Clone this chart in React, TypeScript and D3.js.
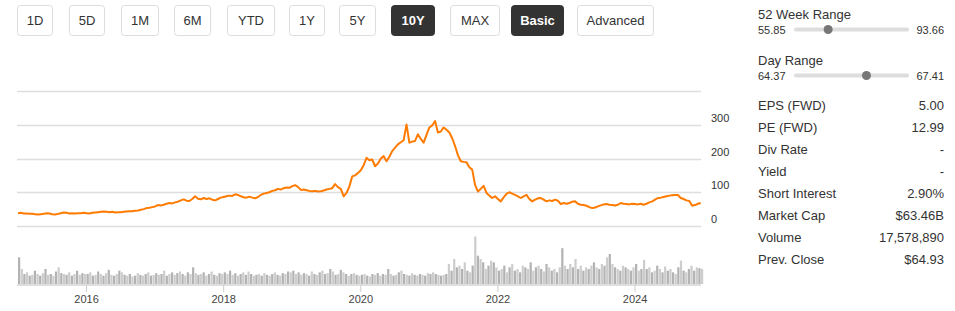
import React from "react";
import * as d3 from "d3";

// ---- data ----
const priceYears = [2015, 2016, 2017, 2018, 2019, 2020, 2021, 2022, 2023, 2024];
// semi-monthly closes per year (24 each)
const price2015 = [38, 39, 37, 37, 36, 36, 35, 34, 35, 36, 38, 37, 35, 34, 36, 38, 40, 39, 37, 38, 37, 38, 38, 39];
const price2016 = [38, 37, 39, 40, 41, 42, 43, 42, 41, 42, 40, 41, 41, 42, 43, 44, 44, 45, 46, 48, 50, 53, 54, 56];
const price2017 = [58, 62, 61, 63, 66, 68, 67, 70, 72, 76, 79, 75, 74, 80, 88, 81, 79, 83, 80, 82, 78, 76, 80, 84];
const price2018 = [86, 88, 90, 89, 94, 92, 88, 85, 84, 87, 84, 82, 86, 92, 96, 98, 100, 104, 106, 110, 108, 112, 114, 113];
const price2019 = [118, 121, 116, 107, 108, 106, 104, 103, 104, 102, 103, 105, 108, 110, 112, 124, 115, 110, 88, 98, 117, 147, 150, 157];
const price2020 = [165, 180, 202, 195, 197, 177, 185, 200, 207, 192, 205, 222, 232, 242, 248, 254, 301, 247, 250, 252, 272, 258, 247, 270];
const price2021 = [292, 298, 311, 277, 280, 292, 285, 277, 260, 237, 210, 192, 190, 189, 174, 167, 122, 102, 110, 119, 98, 90, 83, 88];
const price2022 = [80, 73, 85, 95, 100, 96, 92, 88, 83, 88, 92, 80, 73, 78, 82, 83, 78, 73, 76, 74, 78, 75, 65, 68];
const price2023 = [66, 68, 72, 73, 66, 63, 62, 60, 56, 53, 55, 58, 61, 64, 65, 63, 62, 61, 63, 68, 66, 65, 64, 66];
const price2024 = [65, 64, 66, 63, 66, 70, 73, 78, 83, 84, 86, 88, 90, 91, 92, 92, 83, 80, 76, 74, 60, 62, 66, 68];
const priceRows = [price2015, price2016, price2017, price2018, price2019, price2020, price2021, price2022, price2023, price2024];

// bi-weekly volume (millions), 26 per year
const vol2015 = [32, 18, 12, 14, 10, 11, 16, 12, 10, 13, 18, 11, 12, 10, 15, 20, 13, 12, 11, 14, 10, 12, 16, 11, 13, 12];
const vol2016 = [12, 14, 10, 11, 15, 12, 10, 13, 17, 11, 10, 12, 16, 14, 11, 10, 12, 9, 10, 13, 11, 10, 12, 14, 10, 11];
const vol2017 = [13, 11, 12, 16, 10, 12, 14, 11, 13, 15, 12, 10, 14, 12, 20, 13, 11, 12, 14, 10, 12, 15, 11, 10, 13, 12];
const vol2018 = [14, 12, 16, 11, 13, 10, 12, 14, 11, 15, 12, 10, 11, 12, 10, 13, 11, 10, 12, 14, 11, 10, 13, 12, 15, 14];
const vol2019 = [16, 12, 14, 11, 13, 12, 10, 15, 12, 11, 14, 16, 12, 13, 18, 15, 11, 12, 17, 14, 12, 10, 12, 13, 11, 10];
const vol2020 = [11, 12, 10, 9, 12, 11, 13, 10, 12, 11, 18, 12, 10, 11, 14, 16, 12, 11, 10, 13, 11, 10, 12, 11, 10, 13];
const vol2021 = [12, 14, 12, 11, 10, 11, 12, 24, 16, 30, 20, 22, 18, 26, 16, 14, 22, 57, 34, 30, 26, 18, 22, 28, 26, 20];
const vol2022 = [16, 18, 22, 14, 20, 24, 16, 18, 14, 22, 20, 18, 26, 16, 20, 22, 18, 15, 24, 20, 16, 18, 14, 20, 43, 22];
const vol2023 = [18, 24, 20, 30, 18, 22, 16, 20, 18, 22, 26, 20, 18, 24, 22, 32, 36, 24, 20, 18, 16, 22, 20, 18, 16, 20];
const vol2024 = [24, 16, 18, 29, 18, 20, 14, 16, 22, 18, 14, 21, 16, 18, 14, 12, 20, 28, 16, 14, 18, 22, 16, 20, 19, 18];
const volRows = [vol2015, vol2016, vol2017, vol2018, vol2019, vol2020, vol2021, vol2022, vol2023, vol2024];

const yTicks = [0, 100, 200, 300, 400];
const yLabels = [0, 100, 200, 300];
const xTicks = [2016, 2018, 2020, 2022, 2024];

const buttons = ["1D", "5D", "1M", "6M", "YTD", "1Y", "5Y", "10Y", "MAX", "Basic", "Advanced"];
const activeButtons = ["10Y", "Basic"];
const buttonX = [17, 69, 121, 174, 227, 289, 339, 391, 450, 511, 577];
const buttonW = [35, 35, 37, 36, 47, 35, 36, 43, 49, 52, 76];

const ranges = [
  { label: "52 Week Range", low: 55.85, high: 93.66, current: 66.8 },
  { label: "Day Range", low: 64.37, high: 67.41, current: 66.3 },
];
const statLabels = ["EPS (FWD)", "PE (FWD)", "Div Rate", "Yield", "Short Interest", "Market Cap", "Volume", "Prev. Close"];
const statValues = ["5.00", "12.99", "-", "-", "2.90%", "$63.46B", "17,578,890", "$64.93"];

const FONT = "'Liberation Sans', Arial, sans-serif";

export default function App() {
  const x = d3.scaleLinear().domain([2015, 2025]).range([18, 703.6]);
  const y = d3.scaleLinear().domain([0, 400]).range([226, 91]);
  const yv = d3.scaleLinear().domain([0, 60]).range([284, 234]);

  const prices: { t: number; v: number }[] = [];
  priceRows.forEach((row, yi) => row.forEach((v, i) => prices.push({ t: priceYears[yi] + i / 24, v })));
  const vols: { t: number; v: number }[] = [];
  volRows.forEach((row, yi) => row.forEach((v, i) => vols.push({ t: priceYears[yi] + i / 26, v })));

  const line = d3
    .line<{ t: number; v: number }>()
    .x((d) => x(d.t))
    .y((d) => y(d.v));

  const barW = x(2015 + 1 / 26) - x(2015);

  return (
    <svg
      width={955}
      height={311}
      style={{ position: "absolute", left: 0, top: 0, background: "#fff" }}
      fontFamily={FONT}
    >
      {/* buttons */}
      {buttons.map((b, i) => {
        const active = activeButtons.includes(b);
        return (
          <g key={b}>
            <rect
              x={buttonX[i] + 0.5}
              y={5.5}
              width={buttonW[i]}
              height={30}
              rx={3}
              fill={active ? "#333" : "#fff"}
              stroke={active ? "#333" : "#ddd"}
            />
            <text
              x={buttonX[i] + 0.5 + buttonW[i] / 2}
              y={25}
              textAnchor="middle"
              fontSize={13}
              fontWeight={active ? "bold" : "normal"}
              fill={active ? "#fff" : "#333"}
            >
              {b}
            </text>
          </g>
        );
      })}

      {/* grid */}
      {yTicks.map((t) => (
        <line key={t} x1={17} x2={701} y1={Math.round(y(t)) + 0.5} y2={Math.round(y(t)) + 0.5} stroke="#dedede" strokeWidth={1.5} />
      ))}
      {yLabels.map((t) => (
        <text key={t} x={711} y={y(t) - 3} fontSize={11} fill="#333">
          {t}
        </text>
      ))}

      {/* volume */}
      {vols.map((d, i) => (
        <rect
          key={i}
          x={x(d.t)}
          y={yv(d.v)}
          width={barW - 0.4}
          height={yv(0) - yv(d.v)}
          fill={i % 2 === 0 ? "#b3b3b3" : "#cdcdcd"}
        />
      ))}
      <line x1={17} x2={701} y1={285} y2={285} stroke="#dedede" strokeWidth={2} />
      {xTicks.map((t) => (
        <g key={t}>
          <line x1={x(t)} x2={x(t)} y1={285} y2={292} stroke="#ccc" strokeWidth={1} />
          <text x={x(t)} y={303} textAnchor="middle" fontSize={11} fill="#444">
            {t}
          </text>
        </g>
      ))}

      {/* price line */}
      <path d={line(prices) || ""} fill="none" stroke="#ff7b00" strokeWidth={2} strokeLinejoin="round" />

      {/* ranges */}
      {ranges.map((r, i) => {
        const top = i * 46;
        const s = d3.scaleLinear().domain([r.low, r.high]).range([796, 907]);
        return (
          <g key={r.label}>
            <text x={758} y={top + 18.5} fontSize={13} fill="#333">
              {r.label}
            </text>
            <text x={758} y={top + 33.5} fontSize={11} fill="#333">
              {r.low.toFixed(2)}
            </text>
            <rect x={794} y={top + 27.5} width={115} height={4} rx={2} fill="#ddd" />
            <circle cx={s(r.current)} cy={top + 29.5} r={4.5} fill="#777" />
            <text x={944} y={top + 33.5} fontSize={11} fill="#333" textAnchor="end">
              {r.high.toFixed(2)}
            </text>
          </g>
        );
      })}

      {/* stats */}
      {statLabels.map((l, i) => (
        <g key={l}>
          <text x={758} y={109.5 + i * 22} fontSize={13} fill="#333">
            {l}
          </text>
          <text x={944} y={109.5 + i * 22} fontSize={13} fill="#333" textAnchor="end">
            {statValues[i]}
          </text>
        </g>
      ))}
    </svg>
  );
}
